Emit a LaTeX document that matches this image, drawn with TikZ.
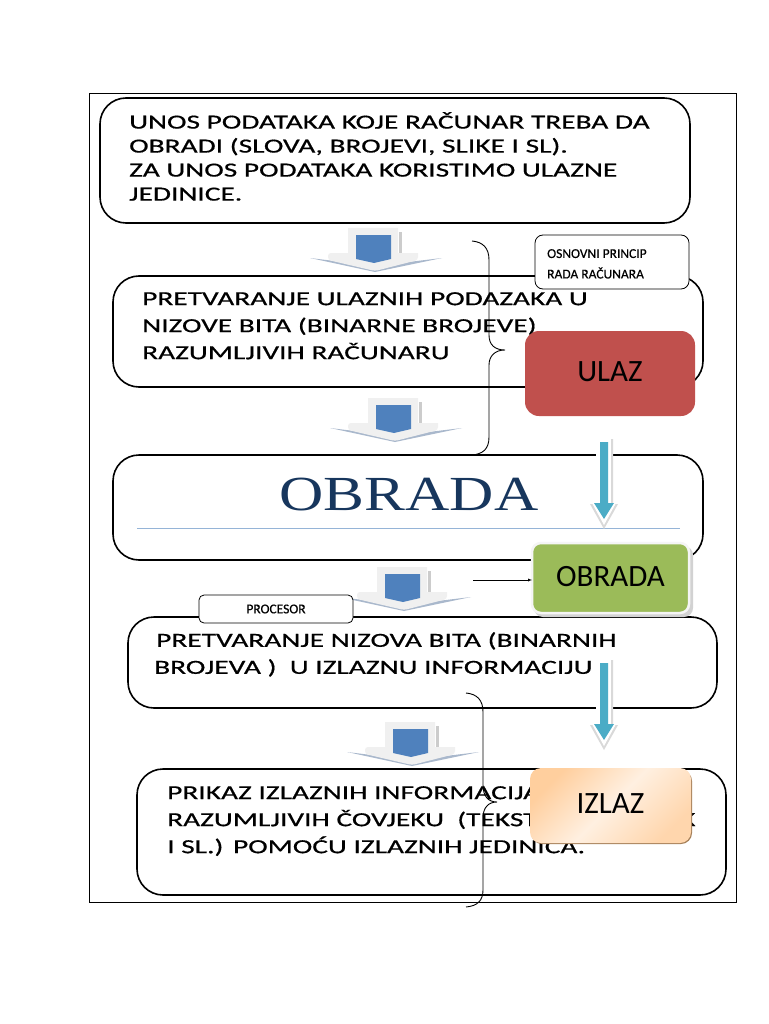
\documentclass[tikz,border=0pt]{standalone}
\usepackage{fontspec}
\setmainfont{Carlito}
\newfontfamily\widefont[FakeStretch=1.47,FakeBold=0.6]{Carlito}
\newfontfamily\notefont[FakeBold=0.4]{Carlito}
\newfontfamily\titlefont[FakeStretch=1.25]{Liberation Serif}
\usetikzlibrary{positioning}
\definecolor{ulazred}{HTML}{C0504D}
\definecolor{obradagreen}{HTML}{9BBB59}
\definecolor{arrowblue}{HTML}{4F81BD}
\definecolor{arrowcyan}{HTML}{4BACC6}
\definecolor{wingblue}{HTML}{A9B8CC}
\definecolor{titleblue}{HTML}{17365D}
\tikzset{
  stepbox/.style={draw,line width=1.6pt,rounded corners=26pt,anchor=north west,fill=white,outer sep=0pt},
  steptext/.style={anchor=north west,align=left,inner sep=0pt,font=\widefont\fontsize{20}{#1}\selectfont},
  notebox/.style={draw,line width=.8pt,rounded corners=8pt,anchor=north west,fill=white,inner sep=0pt,outer sep=0pt},
  tagbox/.style={anchor=north west,rounded corners=14pt,outer sep=0pt,text depth=4pt,font=\fontsize{31}{33}\selectfont},
  brace/.style={line width=.9pt},
  pics/blockarrow/.style={code={
    \fill[wingblue] (-65,30) -- (0,44) -- (67,30) -- (0,38) -- cycle;
    \fill[gray!12] (-27,0) -- (23,0) -- (23,25) -- (43,25) [rounded corners=3pt] -- (43,32) -- (0,43) -- (-47,32) -- (-47,25) [sharp corners] -- (-27,25) -- cycle;
    \fill[gray!40] (24,4) rectangle (27,25);
    \fill[arrowblue] (-19,7) -- (16,7) -- (16,31) -- (-1,35) -- (-19,31) -- cycle;
  }},
  pics/cyanarrow/.style={code={
    \fill[gray!30] (-8,0) -- (9,0) -- (9,65) -- (14,65) -- (0,90) -- (-14,65) -- (-8,65) -- cycle;
    \fill[white] (-8,0) rectangle (7,64);
    \fill[white] (-12,64) -- (12,64) -- (0,86) -- cycle;
    \fill[arrowcyan] (-4,3) -- (4,3) -- (4,64) -- (10,64) -- (0,80) -- (-10,64) -- (-4,64) -- cycle;
  }}
}
\begin{document}
\begin{tikzpicture}[x=1pt,y=-1pt]
  \useasboundingbox (0,0) rectangle (768,1024);
  \fill[white] (0,0) rectangle (768,1024);
  \draw[line width=.7pt] (89.5,93) rectangle (736.5,902);

  \node[stepbox,minimum width=590pt,minimum height=125pt] (unos) at (100,98) {};
  \node[stepbox,minimum width=590pt,minimum height=111pt] (pretvaranje) at (113,276) {};
  \node[stepbox,minimum width=590pt,minimum height=105pt] (obrada) at (113,455) {};
  \node[stepbox,minimum width=589pt,minimum height=91pt] (nizovi) at (128,617) {};
  \node[stepbox,minimum width=589pt,minimum height=126pt] (prikaz) at (137,769) {};

  \node[steptext=24] (unostext) at (129,112) {UNOS PODATAKA KOJE RAČUNAR TREBA DA\\OBRADI (SLOVA, BROJEVI, SLIKE I SL).\\ZA UNOS PODATAKA KORISTIMO ULAZNE\\JEDINICE.};
  \node[steptext=27] (pretvaranjetext) at (142,292) {PRETVARANJE ULAZNIH PODAZAKA U\\NIZOVE BITA (BINARNE BROJEVE)\\RAZUMLJIVIH RAČUNARU};
  \node[steptext=27] (nizovitext) at (154,632) {\hspace*{2pt}PRETVARANJE NIZOVA BITA (BINARNIH\\BROJEVA ) \ U IZLAZNU INFORMACIJU};
  \node[steptext=27] (prikaztext) at (167,786) {PRIKAZ IZLAZNIH INFORMACIJA\\RAZUMLJIVIH ČOVJEKU \ (TEKST\\I SL.)\hspace{3pt} POMOĆU IZLAZNIH JEDINICA.};
  \node[steptext=27] (prikazkraj) at (680,813) {K};

  \node[anchor=base,inner sep=0pt,text=titleblue,font=\titlefont\fontsize{49}{49}\selectfont] (obradatitle) at (409,510) {OBRADA};
  \coordinate (ruleleft) at (137,528);
  \coordinate (ruleright) at (680,528);
  \draw[line width=.9pt,arrowblue!60] (ruleleft) -- (ruleright);

  \pic at (375,228) {blockarrow};
  \pic at (395,398) {blockarrow};
  \pic at (404,567) {blockarrow};
  \pic at (412,722) {blockarrow};

  \draw[brace] (472,241) .. controls (483,242) and (489,248) .. (489,260) -- (489,335) .. controls (489,345) and (495,350) .. (505,350) .. controls (495,350) and (489,356) .. (489,365) -- (489,437) .. controls (489,449) and (483,454) .. (472,455);
  \draw[brace] (466,693) .. controls (477,694) and (483,700) .. (483,712) -- (483,785) .. controls (483,796) and (488,802) .. (497,802) .. controls (488,802) and (483,808) .. (483,818) -- (483,890) .. controls (483,901) and (477,906) .. (466,907);

  \pic at (604,439) {cyanarrow};
  \pic at (604,660) {cyanarrow};

  \node[notebox,minimum width=154pt,minimum height=54pt] (princip) at (535,235) {};
  \node[anchor=north west,inner sep=0pt,align=left,font=\notefont\fontsize{13.5}{20.5}\selectfont] (principtext) at (547,249) {OSNOVNI PRINCIP\\RADA RAČUNARA};
  \node[notebox,rounded corners=5pt,minimum width=154pt,minimum height=28pt,font=\notefont\fontsize{13.5}{14}\selectfont] (procesor) at (199,595) {PROCESOR};

  \node[tagbox,fill=ulazred,minimum width=170pt,minimum height=85pt] (ulaz) at (525,331) {ULAZ};

  \fill[gray!35,rounded corners=9pt] (534,546) rectangle (693,617);
  \node[tagbox,fill=obradagreen,draw=white!92!gray,line width=2.5pt,rounded corners=9pt,minimum width=157pt,minimum height=70pt] (obradabox) at (532,543) {OBRADA};
  \coordinate (obradaulaz) at (473,580);
  \draw[-latex] (obradaulaz) -- (obradaulaz -| obradabox.west);

  \fill[brown!60!gray,rounded corners=11pt] (531,770) rectangle (692,844);
  \node[tagbox,left color=orange!38!white,right color=orange!32!white,middle color=orange!12!white,shading angle=45,rounded corners=11pt,minimum width=161pt,minimum height=75pt] (izlaz) at (530,768) {IZLAZ};
\end{tikzpicture}
\end{document}
